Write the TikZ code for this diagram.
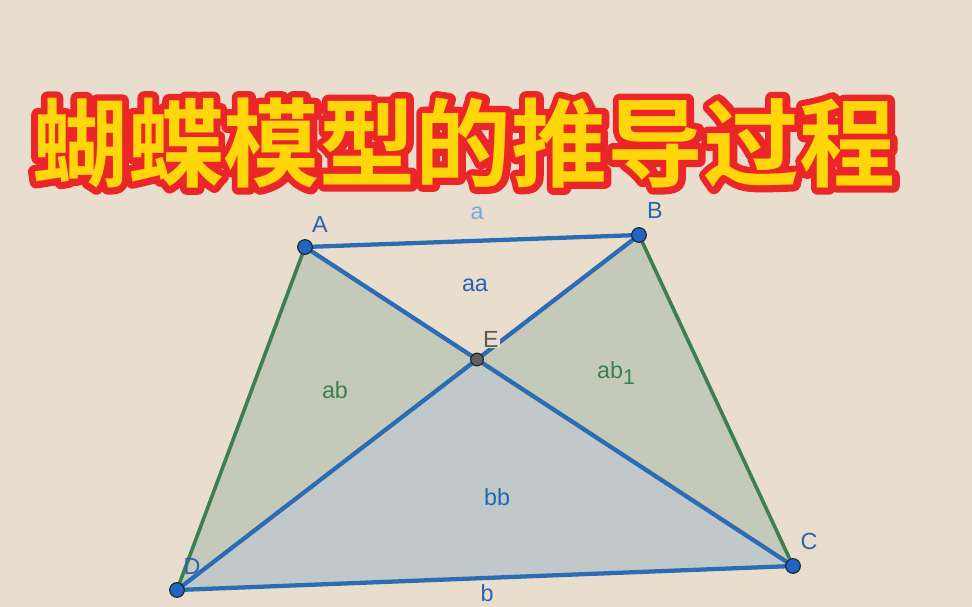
\documentclass[tikz,border=0pt]{standalone}
\usepackage{fontspec}
\setmainfont{Liberation Sans}
\newfontfamily\cjk{Noto Sans CJK SC}[UprightFont={* Bold}]
\newfontfamily\cjkred{Noto Sans CJK SC}[UprightFont={* Bold}, FakeBold=14]
\definecolor{bg}{RGB}{233,222,205}
\definecolor{fillside}{RGB}{197,201,186}
\definecolor{fillbot}{RGB}{193,200,202}
\definecolor{segblue}{RGB}{44,108,178}
\definecolor{seggreen}{RGB}{58,128,80}
\definecolor{ptblue}{RGB}{30,102,196}
\definecolor{ptgray}{RGB}{95,95,95}
\definecolor{lblblue}{RGB}{40,100,180}
\definecolor{lbllight}{RGB}{125,165,225}
\definecolor{lblgreen}{RGB}{58,128,80}
\definecolor{lblgray}{RGB}{95,90,85}
\definecolor{ttred}{RGB}{234,38,40}
\definecolor{ttyellow}{RGB}{255,214,10}
\tikzset{
  titletext/.style={inner sep=0pt, font=\cjk\fontsize{72}{72}\selectfont},
  titleback/.style={inner sep=0pt, font=\cjkred\fontsize{72}{72}\selectfont},
  blueseg/.style={draw=segblue, line width=3.2pt, line cap=round},
  greenseg/.style={draw=seggreen, line width=2.7pt, line cap=round},
  bluept/.style={circle, fill=ptblue, draw=black!85, line width=0.9pt, minimum size=11pt, inner sep=0pt},
  graypt/.style={circle, fill=ptgray, draw=black!85, line width=0.9pt, minimum size=9.5pt, inner sep=0pt},
  lbl/.style={inner sep=0pt, font=\fontsize{17.5}{17.5}\selectfont}
}
\begin{document}
\begin{tikzpicture}[x=0.75pt, y=-0.75pt]
\useasboundingbox (0,0) rectangle (972,607);
\fill[bg] (0,0) rectangle (972,607);
% title
\coordinate (T) at (464,143);
\begin{scope}[line join=round, line cap=round]
\node[titleback, text=ttred] (titlebg) at (T) {蝴蝶模型的推导过程};
\end{scope}
\node[titletext, text=ttyellow] (title) at (T) {蝴蝶模型的推导过程};
% points
\coordinate (A) at (305,247);
\coordinate (B) at (639,235);
\coordinate (C) at (793,566);
\coordinate (D) at (177,590);
\coordinate (E) at (477,359.5);
% fills
\fill[fillside] (A) -- (E) -- (D) -- cycle;
\fill[fillside] (B) -- (E) -- (C) -- cycle;
\fill[fillbot] (D) -- (E) -- (C) -- cycle;
% segments
\draw[greenseg] (A) -- (D);
\draw[greenseg] (B) -- (C);
\draw[blueseg] (A) -- (B);
\draw[blueseg] (D) -- (C);
\draw[blueseg] (A) -- (C);
\draw[blueseg] (B) -- (D);
% labels
\node[lbl, text=lbllight] (la) at (477,213) {a};
\node[lbl, text=lblblue] (laa) at (475,285) {aa};
\node[lbl, text=lblgreen] (lab) at (335,390) {ab};
\node[lbl, text=lblgreen] (lab1) at (616,373) {ab\raisebox{-0.55ex}{\fontsize{16}{16}\selectfont 1}};
\node[lbl, text=lblblue] (lbb) at (497,497) {bb};
\node[lbl, text=lblblue] (lb) at (487,593) {b};
\node[lbl, text=lblblue] (lA) at (320,224) {A};
\node[lbl, text=lblblue] (lB) at (655,210) {B};
\node[lbl, text=lblblue] (lC) at (809,541) {C};
\node[lbl, text=lblblue] (lD) at (192,566) {D};
\node[lbl, text=lblgray, fill=bg, inner sep=1pt] (lE) at (491,339) {E};
% point markers
\node[bluept] (pA) at (A) {};
\node[bluept] (pB) at (B) {};
\node[bluept] (pC) at (C) {};
\node[bluept] (pD) at (D) {};
\node[graypt] (pE) at (E) {};
\end{tikzpicture}
\end{document}
